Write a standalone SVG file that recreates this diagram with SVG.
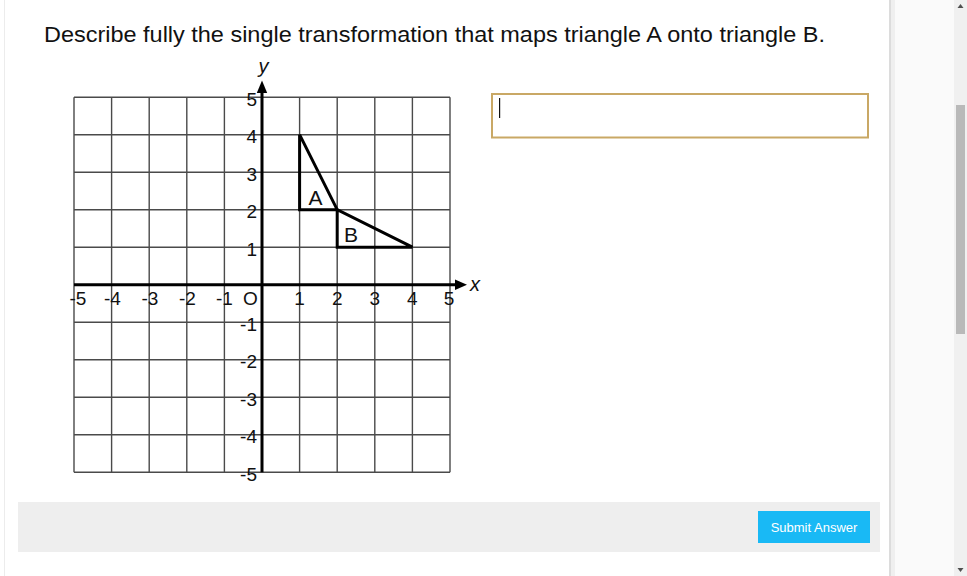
<svg xmlns="http://www.w3.org/2000/svg" width="967" height="576" viewBox="0 0 967 576">
<style>
.t{font-family:"Liberation Sans",Arial,sans-serif;fill:#111}
.ax{font-size:19px}
.grid{stroke:#4a4a4a;stroke-width:1.4;fill:none}
.axis{stroke:#000;stroke-width:3;fill:none}
.tri{stroke:#000;stroke-width:3;fill:none;stroke-linejoin:miter}
</style>
<rect x="0" y="0" width="967" height="576" fill="#fff"/>
<g id="page-frame">
<rect x="891" y="0" width="63" height="576" fill="#fafafa"/>
<rect x="889" y="0" width="2" height="576" fill="#dcdcdc"/>
<rect x="891" y="0" width="4" height="576" fill="#efefef"/>
<rect x="4" y="0" width="1" height="576" fill="#ececec"/>
</g>
<g id="scrollbar">
<rect x="954" y="0" width="13" height="576" fill="#f0f0f0"/>
<rect x="956" y="105" width="9" height="229" fill="#b9b9b9"/>
<path d="M957.5 8 L960.5 4 L963.5 8 Z" fill="#505050"/>
<path d="M957.5 568 L960.5 572 L963.5 568 Z" fill="#505050"/>
</g>
<g id="title">
<text class="t" x="44" y="42" font-size="22" textLength="781" lengthAdjust="spacingAndGlyphs">Describe fully the single transformation that maps triangle A onto triangle B.</text>
</g>
<g id="grid">
<path class="grid" d="M74 97.2V472.2M111.6 97.2V472.2M149.2 97.2V472.2M186.8 97.2V472.2M224.4 97.2V472.2M299.6 97.2V472.2M337.2 97.2V472.2M374.8 97.2V472.2M412.4 97.2V472.2M450 97.2V472.2M74 97.2H450M74 134.7H450M74 172.2H450M74 209.7H450M74 247.2H450M74 322.2H450M74 359.7H450M74 397.2H450M74 434.7H450M74 472.2H450"/>
</g>
<g id="axes">
<path class="axis" d="M262 472.2V92"/>
<path d="M262 80.5 L256.8 93 L267.2 93 Z" fill="#000"/>
<path class="axis" d="M74 284.7H457"/>
<path d="M467 284.7 L455 279.5 L455 289.9 Z" fill="#000"/>
<text class="t" x="263.5" y="73" font-size="20" font-style="italic" text-anchor="middle">y</text>
<text class="t" x="475" y="291" font-size="20" font-style="italic" text-anchor="middle">x</text>
</g>
<g id="y-labels" class="t ax" text-anchor="end">
<text x="257" y="105.7">5</text>
<text x="257" y="143.2">4</text>
<text x="257" y="180.7">3</text>
<text x="257" y="218.2">2</text>
<text x="257" y="255.7">1</text>
<text x="257" y="330.7">-1</text>
<text x="257" y="368.2">-2</text>
<text x="257" y="405.7">-3</text>
<text x="257" y="443.2">-4</text>
<text x="257" y="480.7">-5</text>
</g>
<g id="x-labels" class="t ax" text-anchor="middle">
<text x="78" y="305">-5</text>
<text x="112.5" y="305">-4</text>
<text x="150" y="305">-3</text>
<text x="187.5" y="305">-2</text>
<text x="224.5" y="305">-1</text>
<text x="250.5" y="305">O</text>
<text x="299.6" y="305">1</text>
<text x="337.2" y="305">2</text>
<text x="374.8" y="305">3</text>
<text x="412.4" y="305">4</text>
<text x="449" y="305">5</text>
</g>
<g id="triangle-A">
<path class="tri" d="M299.6 134.7 L299.6 209.7 L337.2 209.7 Z"/>
<text class="t" x="315.5" y="205" font-size="21" text-anchor="middle">A</text>
</g>
<g id="triangle-B">
<path class="tri" d="M337.2 209.7 L337.2 247.2 L412.4 247.2 Z"/>
<text class="t" x="351" y="241.7" font-size="21" text-anchor="middle">B</text>
</g>
<g id="answer-input">
<rect x="492" y="94" width="376" height="43.5" fill="#fff" stroke="#c9a865" stroke-width="2"/>
<rect x="499" y="98" width="1.2" height="20" fill="#111"/>
</g>
<g id="footer">
<rect x="18" y="502" width="862" height="50" fill="#eeeeee"/>
<g id="submit-button">
<rect x="758" y="511" width="112" height="32" fill="#19b9f5"/>
<text x="814" y="532" font-family="'Liberation Sans',Arial,sans-serif" font-size="13" fill="#fff" text-anchor="middle">Submit Answer</text>
</g>
</g>
</svg>
